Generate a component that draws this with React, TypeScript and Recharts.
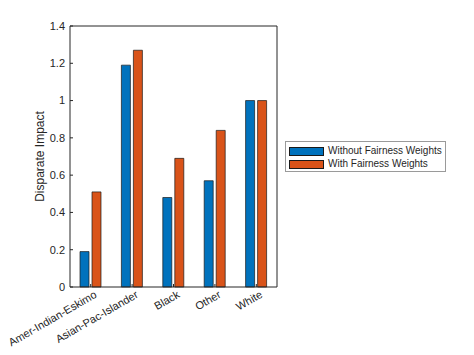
import React from 'react';
import { BarChart, Bar, XAxis, YAxis, Legend } from 'recharts';

const categories = ['Amer-Indian-Eskimo', 'Asian-Pac-Islander', 'Black', 'Other', 'White'];
const withoutWeights = [0.19, 1.19, 0.48, 0.57, 1.0];
const withWeights = [0.51, 1.27, 0.69, 0.84, 1.0];
const yTicks = [0, 0.2, 0.4, 0.6, 0.8, 1, 1.2, 1.4];
const seriesNames = ['Without Fairness Weights', 'With Fairness Weights'];
const seriesColors = ['#0072BD', '#D95319'];

const data = categories.map((cat, i) => ({
  cat,
  without: withoutWeights[i],
  with: withWeights[i],
}));

const FONT = '"Liberation Sans", Arial, Helvetica, sans-serif';
const AXIS = '#262626';

const XTick = (props: any) => {
  const { x, y, payload } = props;
  const tx = x + 3;
  const ty = y;
  return (
    <text
      x={tx}
      y={ty}
      transform={`rotate(-30, ${tx}, ${ty})`}
      textAnchor="end"
      fontSize={11}
      fontFamily={FONT}
      fill={AXIS}
      dy="0.71em"
    >
      {payload.value}
    </text>
  );
};

const LegendBox = () => (
  <div
    style={{
      width: 159,
      height: 29,
      border: '1px solid #9a9a9a',
      background: '#fff',
      fontFamily: FONT,
      fontSize: 10,
      color: AXIS,
      boxSizing: 'content-box',
      position: 'relative',
    }}
  >
    {seriesNames.map((name, i) => (
      <div
        key={name}
        style={{ position: 'absolute', left: 3, top: 4 + i * 13, height: 10, display: 'flex', alignItems: 'center', whiteSpace: 'nowrap' }}
      >
        <div style={{ width: 33, height: 7, background: seriesColors[i], border: '1px solid #1a1a1a', marginRight: 4 }} />
        <span style={{ lineHeight: '10px' }}>{name}</span>
      </div>
    ))}
  </div>
);

export default function App() {
  return (
    <div style={{ position: 'absolute', left: 0, top: 0, width: 474, height: 355, background: '#fff' }}>
      <BarChart
        width={474}
        height={355}
        data={data}
        margin={{ top: 25, right: 35, left: 0, bottom: 0 }}
        barSize={9}
        barGap={3}
      >
        <XAxis
          dataKey="cat"
          xAxisId="bottom"
          orientation="bottom"
          height={68}
          interval={0}
          tickSize={-3}
          tickMargin={6}
          stroke={AXIS}
          tickLine={{ stroke: AXIS }}
          axisLine={{ stroke: AXIS }}
          tick={<XTick />}
        />
        <XAxis
          dataKey="cat"
          xAxisId="top"
          orientation="top"
          height={1}
          interval={0}
          tickSize={-3}
          tick={false}
          stroke={AXIS}
          tickLine={{ stroke: AXIS }}
          axisLine={{ stroke: AXIS }}
        />
        <YAxis
          yAxisId="left"
          orientation="left"
          width={70}
          domain={[0, 1.4]}
          ticks={yTicks}
          interval={0}
          tickSize={-3}
          tickMargin={8}
          stroke={AXIS}
          tick={{ fontSize: 11, fontFamily: FONT, fill: AXIS }}
          tickLine={{ stroke: AXIS }}
          axisLine={{ stroke: AXIS }}
          label={{
            value: 'Disparate Impact',
            angle: -90,
            position: 'center',
            dx: 5,
            style: { fontSize: 12, fontFamily: FONT, fill: AXIS, textAnchor: 'middle' },
          }}
        />
        <YAxis
          yAxisId="right"
          orientation="right"
          width={1}
          domain={[0, 1.4]}
          ticks={yTicks}
          interval={0}
          tickSize={-3}
          tick={false}
          stroke={AXIS}
          tickLine={{ stroke: AXIS }}
          axisLine={{ stroke: AXIS }}
        />
        <Legend
          layout="vertical"
          verticalAlign="middle"
          align="right"
          wrapperStyle={{ position: 'absolute', left: 285, top: 141, width: 161, height: 31 }}
          content={() => <LegendBox />}
        />
        <Bar
          dataKey="without"
          name={seriesNames[0]}
          xAxisId="bottom"
          yAxisId="left"
          fill={seriesColors[0]}
          stroke="#1a1a1a"
          strokeWidth={0.7}
          isAnimationActive={false}
        />
        <Bar
          dataKey="with"
          name={seriesNames[1]}
          xAxisId="bottom"
          yAxisId="left"
          fill={seriesColors[1]}
          stroke="#1a1a1a"
          strokeWidth={0.7}
          isAnimationActive={false}
        />
      </BarChart>
    </div>
  );
}
